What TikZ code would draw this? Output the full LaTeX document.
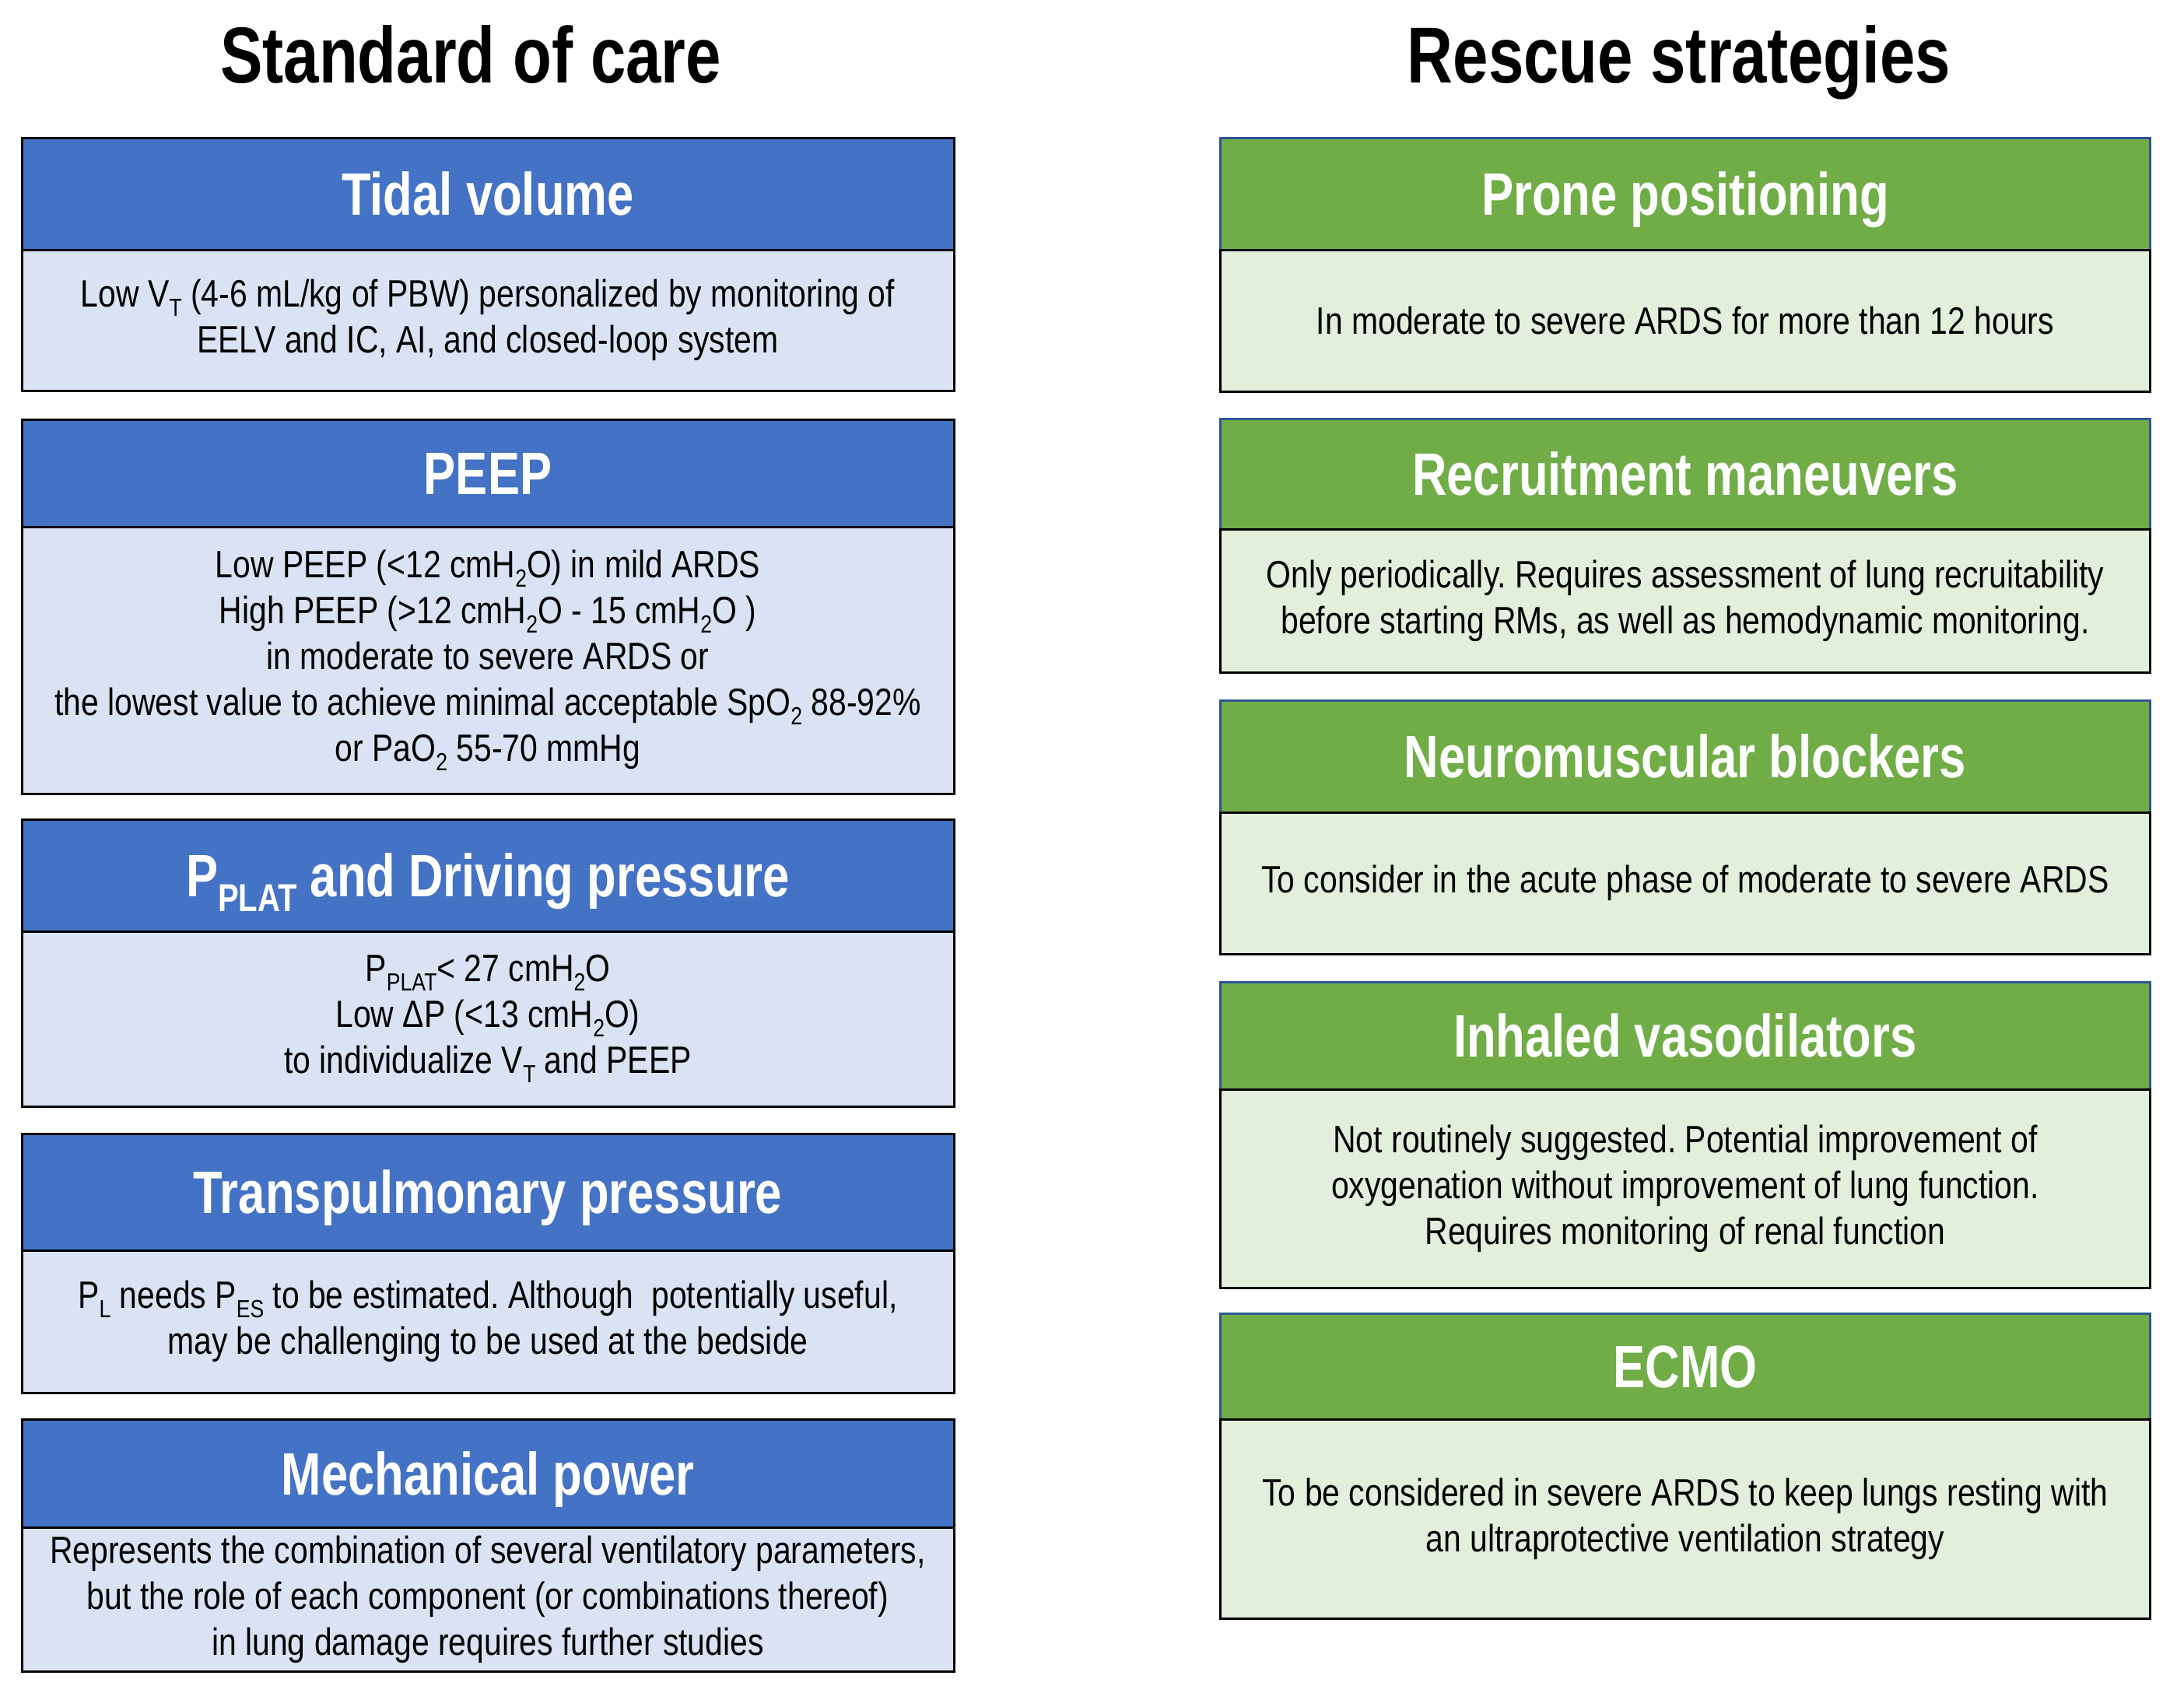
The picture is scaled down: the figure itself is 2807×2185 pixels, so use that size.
\documentclass[tikz,border=0pt]{standalone}
\usepackage{fontspec}
\setmainfont{Liberation Sans}[FakeStretch=0.8]
\newfontfamily\bodyfont{Liberation Sans}[FakeStretch=0.835]
\usetikzlibrary{positioning}
\definecolor{carebleu}{HTML}{4472C4}
\definecolor{carepale}{HTML}{DAE3F3}
\definecolor{rescvert}{HTML}{70AD47}
\definecolor{rescpale}{HTML}{E2EFDA}
\definecolor{rescbord}{HTML}{2F5597}
\newcommand{\lo}[1]{\raisebox{-0.24em}{\scalebox{0.65}{#1}}}
\frenchspacing

\begin{document}
\begin{tikzpicture}[x=0.5pt, y=-0.5pt,
  coltitle/.style={anchor=base, inner sep=0pt, font=\bfseries\fontsize{51}{60}\selectfont},
  head/.style={rectangle, draw=black, line width=1.5pt, fill=carebleu, text=white,
               minimum width=599pt, inner sep=0pt, outer sep=0pt, anchor=north,
               text height=27.6pt, text depth=0pt,
               font=\bfseries\fontsize{38.5}{46}\selectfont},
  body/.style={rectangle, draw=black, line width=1.5pt, fill=carepale, align=center,
               minimum width=599pt, inner sep=0pt, outer sep=0pt, below=0pt of #1,
               font=\bodyfont\fontsize{24.5}{29.5}\selectfont},
  rhead/.style={head, draw=rescbord, fill=rescvert, minimum width=597.5pt},
  rbody/.style={body=#1, fill=rescpale, minimum width=597.5pt}]

  \useasboundingbox (0,0) rectangle (2807,2185);

  % column titles
  \node[coltitle] (care) at (605,106) {Standard of care};
  \node[coltitle] (rescue) at (2158,106) {Rescue strategies};

  % standard of care
  \node[head, minimum height=72pt] (tidal) at (627,177) {Tidal volume};
  \node[body=tidal, minimum height=90.5pt] (tidalb)
    {Low V\lo{T} (4-6 mL/kg of PBW) personalized by monitoring of\\
     EELV and IC, AI, and closed-loop system};

  \node[head, minimum height=69pt] (peep) at (627,539) {PEEP};
  \node[body=peep, minimum height=171.5pt] (peepb)
    {Low PEEP (<12 cmH\lo{2}O) in mild ARDS\\
     High PEEP (>12 cmH\lo{2}O - 15 cmH\lo{2}O )\\
     in moderate to severe ARDS or\\
     the lowest value to achieve minimal acceptable SpO\lo{2} 88-92\%\\
     or PaO\lo{2} 55-70 mmHg};

  \node[head, minimum height=72pt] (pplat) at (627,1053) {P\lo{PLAT} and Driving pressure};
  \node[body=pplat, minimum height=112.5pt] (pplatb)
    {P\lo{PLAT}< 27 cmH\lo{2}O\\
     Low ΔP (<13 cmH\lo{2}O)\\
     to individualize V\lo{T} and PEEP};

  \node[head, minimum height=75pt] (transp) at (627,1457) {Transpulmonary pressure};
  \node[body=transp, minimum height=91.5pt] (transpb)
    {P\lo{L} needs P\lo{ES} to be estimated. Although\ \ potentially useful,\\
     may be challenging to be used at the bedside};

  \node[head, minimum height=69.5pt] (power) at (627,1824) {Mechanical power};
  \node[body=power, minimum height=92.5pt] (powerb)
    {Represents the combination of several ventilatory parameters,\\
     but the role of each component (or combinations thereof)\\
     in lung damage requires further studies};

  % rescue strategies
  \node[rhead, minimum height=72pt] (prone) at (2166,177) {Prone positioning};
  \node[rbody=prone, minimum height=91pt] (proneb)
    {In moderate to severe ARDS for more than 12 hours};

  \node[rhead, minimum height=71pt] (recruit) at (2166,538) {Recruitment maneuvers};
  \node[rbody=recruit, minimum height=92pt] (recruitb)
    {Only periodically. Requires assessment of lung recruitability\\
     before starting RMs, as well as hemodynamic monitoring.};

  \node[rhead, minimum height=72pt] (nmb) at (2166,900) {Neuromuscular blockers};
  \node[rbody=nmb, minimum height=91pt] (nmbb)
    {To consider in the acute phase of moderate to severe ARDS};

  \node[rhead, minimum height=69pt] (vaso) at (2166,1262) {Inhaled vasodilators};
  \node[rbody=vaso, minimum height=127.5pt] (vasob)
    {Not routinely suggested. Potential improvement of\\
     oxygenation without improvement of lung function.\\
     Requires monitoring of renal function};

  \node[rhead, minimum height=68pt] (ecmo) at (2166,1688) {ECMO};
  \node[rbody=ecmo, minimum height=128pt] (ecmob)
    {To be considered in severe ARDS to keep lungs resting with\\
     an ultraprotective ventilation strategy};
\end{tikzpicture}
\end{document}
